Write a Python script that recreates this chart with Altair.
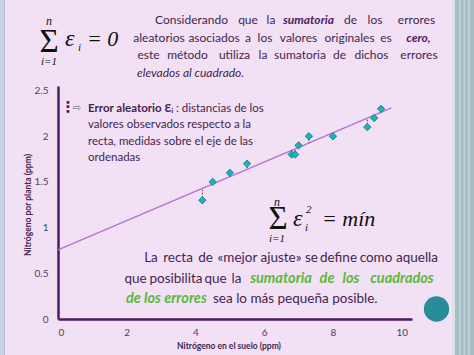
import altair as alt
import pandas as pd

# ---------------- data ----------------
soil_nitrogen = [4.2, 4.5, 5.0, 5.5, 6.8, 6.9, 7.0, 7.3, 8.0, 9.0, 9.2, 9.4]
plant_nitrogen = [1.3, 1.5, 1.6, 1.7, 1.8, 1.8, 1.9, 2.0, 2.0, 2.1, 2.2, 2.3]
fit_x = [0.0, 9.7]
fit_y = [0.757, 2.31]
x_ticks = [0, 2, 4, 6, 8, 10]
y_ticks = [0, 0.5, 1, 1.5, 2, 2.5]

slope = (fit_y[1] - fit_y[0]) / (fit_x[1] - fit_x[0])
fitted = [fit_y[0] + slope * v for v in soil_nitrogen]

# ---------------- layout ----------------
PAD_L, PAD_T, W, H = 58, 86, 354, 233
W_TOTAL, H_TOTAL = 474, 355

BG = "#f2e0f5"
TXT = "#43264d"
DARK = "#4b1c5e"
GREEN = "#5db83a"
TOP = 12
BOX = 11.5
BOT = 13.5

texts = []


def t(text, x, y, size, font="Lato", weight="normal", style="normal",
      align="center", color=TXT, angle=0):
    texts.append(dict(text=text, x=x, y=y, size=size, font=font, weight=weight,
                      style=style, align=align, color=color, angle=angle))


# top paragraph (justified -> word positions)
for w, cx in [("Considerando", 191.5), ("que", 248), ("la", 271)]:
    t(w, cx, 20, TOP)
t("sumatoria", 308.5, 20, TOP, weight="bold", style="italic", color="#4a2366")
for w, cx in [("de", 350.5), ("los", 375), ("errores", 416.5)]:
    t(w, cx, 20, TOP)
for w, cx in [("aleatorios", 159), ("asociados", 214), ("a", 248), ("los", 265),
              ("valores", 298.5), ("originales", 349.5), ("es", 386)]:
    t(w, cx, 37.5, TOP)
t("cero,", 418.5, 37.5, TOP, weight="bold", style="italic", color="#4a2366")
for w, cx in [("este", 148.5), ("método", 187.5), ("utiliza", 234.5), ("la", 263),
              ("sumatoria", 300), ("de", 339.5), ("dichos", 371.5), ("errores", 419)]:
    t(w, cx, 55, TOP)
t("elevados al cuadrado.", 137, 72.5, TOP, style="italic", align="left")

# box text
t("⋮", 68, 107, 15, font="DejaVu Sans", weight="bold", color=DARK)
t("⇨", 77, 108, 10, font="DejaVu Sans", color="#6b5a70")
t("Error aleatorio Ɛᵢ", 88, 108.5, BOX, weight="bold", align="left")
t(": distancias de los", 176, 108.5, BOX, align="left")
t("valores observados respecto a la", 88, 125, BOX, align="left")
t("recta, medidas sobre el eje de las", 88, 141.5, BOX, align="left")
t("ordenadas", 88, 158, BOX, align="left")

# formula 1
SERIF = "Liberation Serif"
INK = "#111111"
t("Σ", 49, 42, 33, font=SERIF, color=INK)
t("n", 49, 21, 12, font=SERIF, style="italic", color=INK)
t("i=1", 49, 62, 11, font=SERIF, style="italic", color=INK)
t("ε", 65, 39, 24, font=SERIF, style="italic", color=INK, align="left")
t("i", 78, 48, 11, font=SERIF, style="italic", color=INK, align="left")
t("= 0", 87, 39, 22, font=SERIF, style="italic", color=INK, align="left")

# formula 2
t("Σ", 278, 219, 33, font=SERIF, color=INK)
t("n", 277, 202, 12, font=SERIF, style="italic", color=INK)
t("i=1", 277, 239, 11, font=SERIF, style="italic", color=INK)
t("ε", 293, 219, 24, font=SERIF, style="italic", color=INK, align="left")
t("2", 306, 210, 11, font=SERIF, style="italic", color=INK, align="left")
t("i", 305, 228, 11, font=SERIF, style="italic", color=INK, align="left")
t("= mín", 322, 219, 22, font=SERIF, style="italic", color=INK, align="left")

# bottom paragraph
for w, cx in [("La", 151), ("recta", 178), ("de", 205.5), ("«mejor", 237.5),
              ("ajuste»", 281), ("se", 311.5), ("define", 338.5), ("como", 376),
              ("aquella", 417)]:
    t(w, cx, 258, BOT)
for w, cx in [("que", 135.5), ("posibilita", 176), ("que", 215.5), ("la", 236.5)]:
    t(w, cx, 279, BOT)
for w, cx in [("sumatoria", 281), ("de", 327), ("los", 351), ("cuadrados", 402)]:
    t(w, cx, 279, 14.5, weight="bold", style="italic", color=GREEN)
t("de los errores", 126, 299, 14.5, weight="bold", style="italic", color=GREEN, align="left")
t("sea lo más pequeña posible.", 213, 299, BOT, align="left")

# axis titles
t("Nitrógeno en el suelo (ppm)", 229, 346, 8.5, weight="bold")
t("Nitrógeno por planta (ppm)", 28, 205, 8.5, weight="bold", angle=270)

tdf = pd.DataFrame(texts)
tdf["px"] = tdf["x"] - PAD_L
tdf["py"] = tdf["y"] - PAD_T

text_layers = []
for (font, weight, style, align, angle), g in tdf.groupby(["font", "weight", "style", "align", "angle"]):
    text_layers.append(
        alt.Chart(g.reset_index(drop=True)).mark_text(
            font=str(font), fontWeight=str(weight), fontStyle=str(style),
            align=str(align), baseline="middle", angle=int(angle)
        ).encode(
            x=alt.X("px:Q", scale=None, axis=None),
            y=alt.Y("py:Q", scale=None, axis=None),
            text="text:N",
            size=alt.Size("size:Q", scale=None, legend=None),
            color=alt.Color("color:N", scale=None, legend=None),
        )
    )

# decorations (page coords)
deco = pd.DataFrame({
    "x": [0, 4, 452, 455, 459, 463.5, 468],
    "x2": [4, 5, 455, 474, 460.5, 465, 469.5],
    "y": [0, 0, 0, 0, 0, 0, 0],
    "y2": [355, 355, 355, 355, 355, 355, 355],
    "c": ["#c9d3e4", "#b3bfd3", "#d9e3e8", "#a9bec4", "#c3d3d7", "#c3d3d7", "#c3d3d7"],
})
deco["px"] = deco["x"] - PAD_L
deco["px2"] = deco["x2"] - PAD_L
deco["py"] = deco["y"] - PAD_T
deco["py2"] = deco["y2"] - PAD_T
deco_layer = alt.Chart(deco).mark_rect().encode(
    x=alt.X("px:Q", scale=None, axis=None), x2="px2:Q",
    y=alt.Y("py:Q", scale=None, axis=None), y2="py2:Q",
    color=alt.Color("c:N", scale=None, legend=None),
)

circle = alt.Chart(pd.DataFrame({"a": [0]})).mark_circle(
    size=640, color="#288d99", opacity=1
).encode(x=alt.value(436.5 - PAD_L), y=alt.value(309 - PAD_T))

# data layers
xs = alt.Scale(domain=[0, 10.3], nice=False)
ys = alt.Scale(domain=[0, 2.55], nice=False)
xaxis = alt.Axis(values=x_ticks, title=None, grid=False, ticks=False,
                 domainColor=DARK, domainWidth=2.5, labelFont="Lato",
                 labelFontSize=10, labelColor="#4a4452", labelPadding=8)
yaxis = alt.Axis(values=y_ticks, title=None, grid=False, ticks=False,
                 domainColor=DARK, domainWidth=2.5, labelFont="Lato",
                 labelFontSize=10, labelColor="#4a4452", labelPadding=10,
                 labelExpr="toString(datum.value)")

pts = pd.DataFrame({"soil": soil_nitrogen, "plant": plant_nitrogen, "fit": fitted})
line_df = pd.DataFrame({"soil": fit_x, "plant": fit_y})

fit_line = alt.Chart(line_df).mark_line(color="#b574d4", strokeWidth=1.5).encode(
    x=alt.X("soil:Q", scale=xs, axis=xaxis),
    y=alt.Y("plant:Q", scale=ys, axis=yaxis),
)
resid = alt.Chart(pts).mark_rule(color="#3a3a50", strokeWidth=1, strokeDash=[1.5, 1.5]).encode(
    x=alt.X("soil:Q", scale=xs), y=alt.Y("plant:Q", scale=ys), y2="fit:Q"
)
points = alt.Chart(pts).mark_point(
    shape="diamond", filled=True, size=55, color="#20b2b6",
    stroke="#0e7880", strokeWidth=0.8, opacity=1
).encode(x=alt.X("soil:Q", scale=xs), y=alt.Y("plant:Q", scale=ys))

data_layer = alt.layer(fit_line, resid, points)

chart = alt.layer(deco_layer, data_layer, *text_layers, circle).resolve_scale(
    x="independent", y="independent"
).properties(
    width=W, height=H,
    padding={"left": PAD_L, "top": PAD_T, "right": W_TOTAL - PAD_L - W,
             "bottom": H_TOTAL - PAD_T - H},
    autosize=alt.AutoSizeParams(type="none"),
    background=BG,
).configure_view(stroke=None)

chart.save("out.html", embed_options={"renderer": "svg", "actions": False})
